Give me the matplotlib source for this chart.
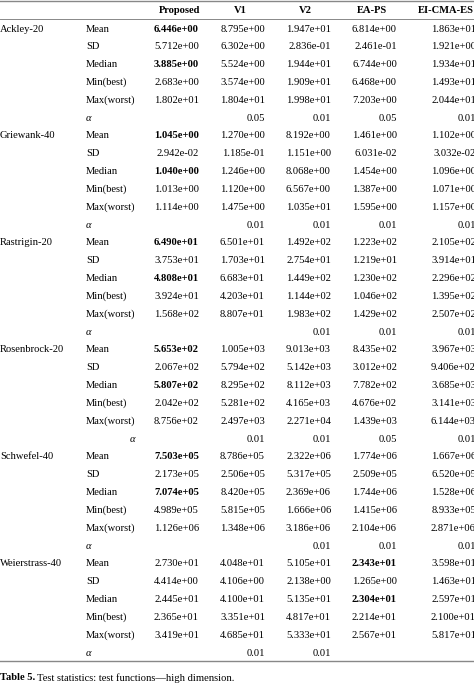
import matplotlib.pyplot as plt

plt.rcParams['font.family'] = ['Liberation Serif', 'DejaVu Serif']

methods = ['Proposed', 'V1', 'V2', 'EA-PS', 'EI-CMA-ES']
functions = ['Ackley-20', 'Griewank-40', 'Rastrigin-20', 'Rosenbrock-20', 'Schwefel-40', 'Weierstrass-40']
stats = ['Mean', 'SD', 'Median', 'Min(best)', 'Max(worst)', '\u03b1']

# rows: one list per method column
ackley = [
    ['6.446e+00', '8.795e+00', '1.947e+01', '6.814e+00', '1.863e+01'],
    ['5.712e+00', '6.302e+00', '2.836e-01', '2.461e-01', '1.921e+00'],
    ['3.885e+00', '5.524e+00', '1.944e+01', '6.744e+00', '1.934e+01'],
    ['2.683e+00', '3.574e+00', '1.909e+01', '6.468e+00', '1.493e+01'],
    ['1.802e+01', '1.804e+01', '1.998e+01', '7.203e+00', '2.044e+01'],
    ['', '0.05', '0.01', '0.05', '0.01'],
]
griewank = [
    ['1.045e+00', '1.270e+00', '8.192e+00', '1.461e+00', '1.102e+00'],
    ['2.942e-02', '1.185e-01', '1.151e+00', '6.031e-02', '3.032e-02'],
    ['1.040e+00', '1.246e+00', '8.068e+00', '1.454e+00', '1.096e+00'],
    ['1.013e+00', '1.120e+00', '6.567e+00', '1.387e+00', '1.071e+00'],
    ['1.114e+00', '1.475e+00', '1.035e+01', '1.595e+00', '1.157e+00'],
    ['', '0.01', '0.01', '0.01', '0.01'],
]
rastrigin = [
    ['6.490e+01', '6.501e+01', '1.492e+02', '1.223e+02', '2.105e+02'],
    ['3.753e+01', '1.703e+01', '2.754e+01', '1.219e+01', '3.914e+01'],
    ['4.808e+01', '6.683e+01', '1.449e+02', '1.230e+02', '2.296e+02'],
    ['3.924e+01', '4.203e+01', '1.144e+02', '1.046e+02', '1.395e+02'],
    ['1.568e+02', '8.807e+01', '1.983e+02', '1.429e+02', '2.507e+02'],
    ['', '', '0.01', '0.01', '0.01'],
]
rosenbrock = [
    ['5.653e+02', '1.005e+03', '9.013e+03', '8.435e+02', '3.967e+03'],
    ['2.067e+02', '5.794e+02', '5.142e+03', '3.012e+02', '9.406e+02'],
    ['5.807e+02', '8.295e+02', '8.112e+03', '7.782e+02', '3.685e+03'],
    ['2.042e+02', '5.281e+02', '4.165e+03', '4.676e+02', '3.141e+03'],
    ['8.756e+02', '2.497e+03', '2.271e+04', '1.439e+03', '6.144e+03'],
    ['', '0.01', '0.01', '0.05', '0.01'],
]
schwefel = [
    ['7.503e+05', '8.786e+05', '2.322e+06', '1.774e+06', '1.667e+06'],
    ['2.173e+05', '2.506e+05', '5.317e+05', '2.509e+05', '6.520e+05'],
    ['7.074e+05', '8.420e+05', '2.369e+06', '1.744e+06', '1.528e+06'],
    ['4.989e+05', '5.815e+05', '1.666e+06', '1.415e+06', '8.933e+05'],
    ['1.126e+06', '1.348e+06', '3.186e+06', '2.104e+06', '2.871e+06'],
    ['', '', '0.01', '0.01', '0.01'],
]
weierstrass = [
    ['2.730e+01', '4.048e+01', '5.105e+01', '2.343e+01', '3.598e+01'],
    ['4.414e+00', '4.106e+00', '2.138e+00', '1.265e+00', '1.463e+01'],
    ['2.445e+01', '4.100e+01', '5.135e+01', '2.304e+01', '2.597e+01'],
    ['2.365e+01', '3.351e+01', '4.817e+01', '2.214e+01', '2.100e+01'],
    ['3.419e+01', '4.685e+01', '5.333e+01', '2.567e+01', '5.817e+01'],
    ['', '0.01', '0.01', '', ''],
]
blocks = [ackley, griewank, rastrigin, rosenbrock, schwefel, weierstrass]
# (function index, row index, column index) shown in bold
bold_cells = {(0, 0, 0), (0, 2, 0), (1, 0, 0), (1, 2, 0), (2, 0, 0), (2, 2, 0),
              (3, 0, 0), (3, 2, 0), (4, 0, 0), (4, 2, 0), (5, 0, 3), (5, 2, 3)}

W, H = 474, 685
fig = plt.figure(figsize=(W / 100, H / 100), dpi=100)
ax = fig.add_axes([0, 0, 1, 1])
ax.set_xlim(0, W)
ax.set_ylim(H, 0)
ax.axis('off')

fs = 7.6
head_x = [180, 240, 305, 372, 446]
val_x = [199, 265, 331, 397, 476]

ax.axhline(1, color='#888888', lw=1.0)
for m, x in zip(methods, head_x):
    ax.text(x, 10, m, ha='center', va='center', fontsize=fs, fontweight='bold')
ax.axhline(19, color='#888888', lw=0.7)

step = 17.83
for f, (name, block) in enumerate(zip(functions, blocks)):
    for r, (st, row) in enumerate(zip(stats, block)):
        y = 29 + (f * 6 + r) * step
        if r == 0:
            ax.text(0, y, name, ha='left', va='center', fontsize=fs)
        sx = 130 if (f == 3 and r == 5) else 86
        ax.text(sx, y, st, ha='left', va='center', fontsize=fs,
                style='italic' if r == 5 else 'normal')
        for c, v in enumerate(row):
            ax.text(val_x[c], y, v, ha='right', va='center', fontsize=fs,
                    fontweight='bold' if (f, r, c) in bold_cells else 'normal')

ax.axhline(661, color='#888888', lw=1.0)
ax.text(0, 678, 'Table 5.', ha='left', va='center', fontsize=fs, fontweight='bold')
ax.text(37, 678, 'Test statistics: test functions\u2014high dimension.',
        ha='left', va='center', fontsize=fs)

plt.savefig('out.png', dpi=100)
